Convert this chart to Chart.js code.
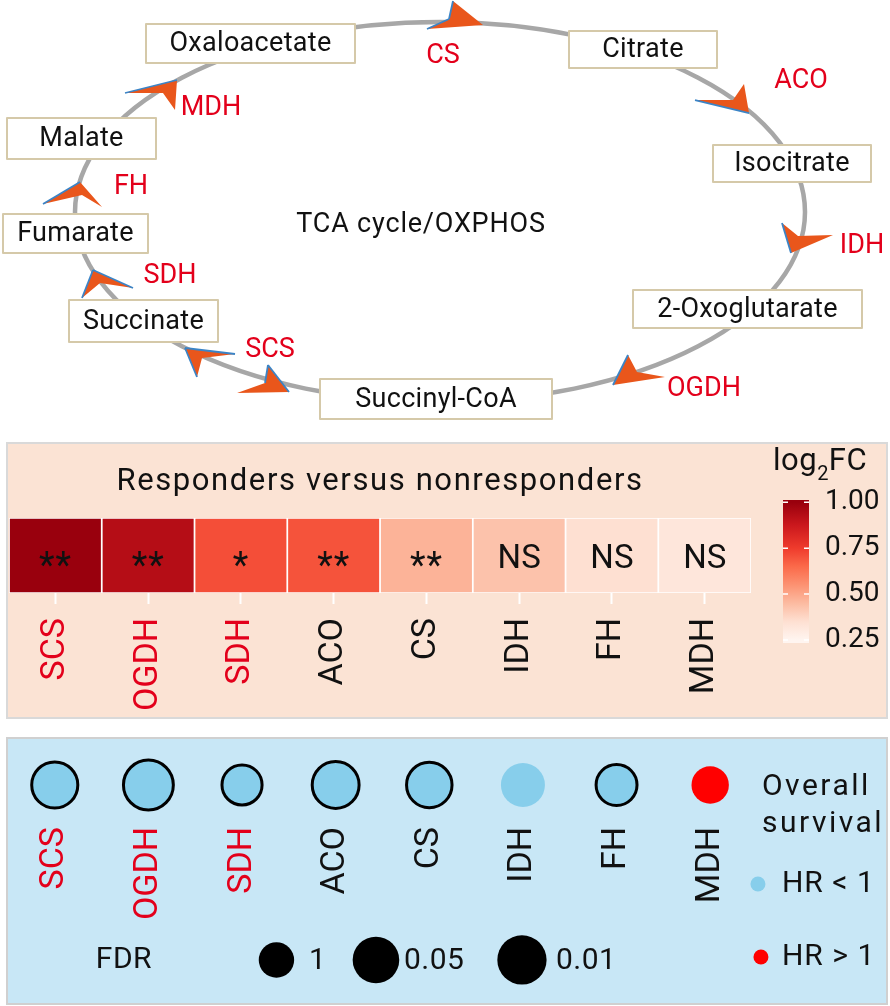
<!DOCTYPE html>
<html><head><meta charset="utf-8">
<script src="https://cdn.jsdelivr.net/npm/chart.js@4.4.1/dist/chart.umd.min.js"></script>
<style>
html,body{margin:0;padding:0;background:#fff;width:890px;height:1006px;overflow:hidden;position:relative;}
canvas{position:absolute;}
.panel{position:absolute;box-sizing:border-box;}
</style></head><body>
<div class="panel" style="left:6px;top:442px;width:882px;height:277px;background:#fbe3d4;border:2px solid #d9d9d9"></div>
<div class="panel" style="left:6px;top:737px;width:882px;height:268px;background:#c8e7f6;border:2px solid #d0d0d0"></div>
<canvas id="tca" width="890" height="432" style="left:0;top:0"></canvas>
<canvas id="heat" width="760" height="275" style="left:0;top:443px"></canvas>
<canvas id="cbar" width="128" height="275" style="left:760px;top:443px"></canvas>
<canvas id="bub"></canvas>
<script>
// ---------------- DATA ----------------
const metabolites = ['Oxaloacetate','Citrate','Isocitrate','2-Oxoglutarate','Succinyl-CoA','Succinate','Fumarate','Malate'];
const enzymes = ['CS','ACO','IDH','OGDH','SCS','SDH','FH','MDH'];
const diagramTitle = 'TCA cycle/OXPHOS';

const genes = ['SCS','OGDH','SDH','ACO','CS','IDH','FH','MDH'];
const log2FC = [1.00, 0.93, 0.71, 0.70, 0.47, 0.43, 0.35, 0.32];
const signif = ['**','**','*','**','**','NS','NS','NS'];
const highlighted = ['SCS','OGDH','SDH'];
const heatTitle = 'Responders versus nonresponders';
const colorbarTicks = [0.25, 0.50, 0.75, 1.00];

const survivalFDR = [0.064, 0.0065, 0.59, 0.042, 0.087, 0.17, 0.48, 0.91];
const hrAbove1 = [false, false, false, false, false, false, false, true];
const outlined = [true, true, true, true, true, false, true, false];
const fdrBreaks = [1, 0.05, 0.01];
const fdrBreakLabels = ['1', '0.05', '0.01'];

// ---------------- STYLE / LAYOUT ----------------
const FONT = 'Roboto';
const RED_TXT = '#e3001b';
const TXT = '#111111';
const ORANGE = '#e9561b';
const BLUE_EDGE = '#3b84c6';
const SKY = '#87ceeb';
const BUB_BORDER = 3;

const colourStops = [[0.25,'#fff5f0'],[0.35,'#fee0d2'],[0.45,'#fcbba1'],[0.55,'#fc9272'],[0.65,'#fb6a4a'],[0.75,'#ef3b2c'],[0.875,'#cb181d'],[1.0,'#99000d']];
function hex2rgb(h){return [1,3,5].map(i=>parseInt(h.substr(i,2),16));}
function colourFor(v){
  if (v <= colourStops[0][0]) return colourStops[0][1];
  for (let i=1;i<colourStops.length;i++){
    const [v1,c1]=colourStops[i];
    if (v <= v1){
      const [v0,c0]=colourStops[i-1];
      const t=(v-v0)/(v1-v0); const a=hex2rgb(c0), b=hex2rgb(c1);
      return 'rgb('+a.map((x,k)=>Math.round(x+(b[k]-x)*t)).join(',')+')';
    }
  }
  return colourStops[colourStops.length-1][1];
}
function sizeScale(fdr){ return 17.7 + 4.9*Math.sqrt(-Math.log10(fdr)); }

const ellipseGeom = {cx:440, cy:212, rx:365, ry:190};
const boxLayout = {
  'Oxaloacetate':[146,24,355,63], 'Citrate':[569,31,717,68], 'Isocitrate':[713,145,871,182],
  '2-Oxoglutarate':[633,290,862,328], 'Succinyl-CoA':[320,379,552,419], 'Succinate':[69,300,218,342],
  'Fumarate':[3,214,148,253], 'Malate':[7,118,156,159]
};
const enzymeLabelPos = {CS:[443,55], ACO:[801,80], IDH:[862,245], OGDH:[704,388], SCS:[270,349], SDH:[170,275], FH:[131,186], MDH:[211,107]};
const arrowShapes = [
  {pts:[[453,1],[449,19],[427,29],[483,25]], blue:[[0,1],[1,2]]},
  {pts:[[744,84],[733,100],[695,100],[749,113]], blue:[[2,3]]},
  {pts:[[782,223],[791,253],[833,235],[798,236]], blue:[[0,1]]},
  {pts:[[628,355],[613,385],[665,377],[637,372]], blue:[[0,1]]},
  {pts:[[268,365],[289,392],[237,393],[265,383]], blue:[[3,0],[0,1]]},
  {pts:[[185,348],[197,377],[202,358],[235,354]], blue:[[3,0],[0,1]]},
  {pts:[[93,270],[82,298],[100,283],[133,288]], blue:[[3,0],[0,1]]},
  {pts:[[80,182],[102,207],[82,195],[43,204]], blue:[[3,0]]},
  {pts:[[177,80],[175,110],[163,93],[125,93]], blue:[[3,0]]}
];

const common = {responsive:false, animation:false, events:[], plugins:{legend:{display:false}, tooltip:{enabled:false}}};

// ---------------- TCA DIAGRAM ----------------
const diagramPlugin = {
  id:'diagram',
  afterDatasetsDraw(chart){
    const {ctx} = chart; const X=v=>chart.scales.x.getPixelForValue(v), Y=v=>chart.scales.y.getPixelForValue(v);
    ctx.save();
    const e = ellipseGeom;
    ctx.beginPath();
    ctx.ellipse(X(e.cx), Y(e.cy), Math.abs(X(e.cx+e.rx)-X(e.cx)), Math.abs(Y(e.cy+e.ry)-Y(e.cy)), 0, 0, Math.PI*2);
    ctx.strokeStyle='#a7a7a7'; ctx.lineWidth=4.5; ctx.stroke();
    arrowShapes.forEach(a=>{
      ctx.beginPath();
      a.pts.forEach((p,i)=>{ if(i===0) ctx.moveTo(X(p[0]),Y(p[1])); else ctx.lineTo(X(p[0]),Y(p[1])); });
      ctx.closePath(); ctx.fillStyle=ORANGE; ctx.fill();
      ctx.strokeStyle=BLUE_EDGE; ctx.lineWidth=1.8; ctx.lineJoin='round';
      a.blue.forEach(([i,j])=>{ ctx.beginPath(); ctx.moveTo(X(a.pts[i][0]),Y(a.pts[i][1])); ctx.lineTo(X(a.pts[j][0]),Y(a.pts[j][1])); ctx.stroke(); });
    });
    ctx.textAlign='center'; ctx.textBaseline='middle';
    metabolites.forEach(m=>{
      const [x0,y0,x1,y1]=boxLayout[m];
      ctx.fillStyle='#fff'; ctx.fillRect(X(x0),Y(y0),X(x1)-X(x0),Y(y1)-Y(y0));
      ctx.strokeStyle='#d5c9a9'; ctx.lineWidth=2; ctx.strokeRect(X(x0),Y(y0),X(x1)-X(x0),Y(y1)-Y(y0));
      ctx.fillStyle=TXT; ctx.font='27px '+FONT; ctx.letterSpacing='0.3px';
      ctx.fillText(m, X((x0+x1)/2), Y((y0+y1)/2)+1);
    });
    ctx.letterSpacing='0px';
    enzymes.forEach(en=>{
      const [x,y]=enzymeLabelPos[en];
      ctx.fillStyle=RED_TXT; ctx.font='27px '+FONT; ctx.fillText(en, X(x), Y(y)+1);
    });
    ctx.fillStyle=TXT; ctx.font='27px '+FONT; ctx.letterSpacing='0.8px';
    ctx.fillText(diagramTitle, X(421), Y(225));
    ctx.restore();
  }
};
new Chart(document.getElementById('tca'), {
  type:'scatter', data:{datasets:[{data:[]}]},
  options:{...common, layout:{padding:0},
    scales:{x:{type:'linear',min:0,max:890,display:false}, y:{type:'linear',min:0,max:432,reverse:true,display:false}}},
  plugins:[diagramPlugin]
});

// ---------------- HEATMAP ----------------
const heatPlugin = {
  id:'heatText',
  afterDatasetsDraw(chart){
    const {ctx}=chart; const meta=chart.getDatasetMeta(0);
    ctx.save(); ctx.textAlign='center'; ctx.textBaseline='alphabetic'; ctx.fillStyle=TXT;
    meta.data.forEach((bar,i)=>{
      const s=signif[i]; const cy=(bar.y+bar.base)/2;
      if (s.startsWith('*')) { ctx.font='36px '+FONT; ctx.letterSpacing='1px'; ctx.fillText(s, bar.x, cy+21); }
      else { ctx.font='33px '+FONT; ctx.letterSpacing='0px'; ctx.fillText(s, bar.x, cy+12); }
    });
    ctx.font='31px '+FONT; ctx.letterSpacing='1.6px'; ctx.textBaseline='middle';
    ctx.fillText(heatTitle, (chart.chartArea.left+chart.chartArea.right)/2, 39);
    ctx.restore();
  }
};
new Chart(document.getElementById('heat'), {
  type:'bar',
  data:{labels:genes, datasets:[{data:genes.map(()=>[0,1]), backgroundColor:log2FC.map(colourFor),
    borderColor:'#ffffff', borderWidth:1.2, borderSkipped:false, barPercentage:1, categoryPercentage:1}]},
  options:{...common, layout:{padding:{left:9,right:8,top:75,bottom:0}},
    scales:{
      y:{display:false,min:0,max:1},
      x:{offset:true,
        grid:{display:true,offset:false,drawOnChartArea:false,drawTicks:true,tickLength:11,color:'#fff',tickColor:'#fff',tickWidth:2},
        border:{display:false},
        ticks:{autoSkip:false,minRotation:90,maxRotation:90,padding:14,font:{family:FONT,size:34},
          color:c=>highlighted.includes(genes[c.index])?RED_TXT:TXT},
        afterFit(s){s.height=125;}
      }
    }},
  plugins:[heatPlugin]
});

// ---------------- COLOUR BAR ----------------
const cbMin=0.234, cbMax=1.012;
const cbPlugin = {
  id:'cbDeco',
  afterDatasetsDraw(chart){
    const {ctx,chartArea:a}=chart; const ys=chart.scales.y;
    ctx.save(); ctx.strokeStyle='#fff'; ctx.lineWidth=1.5;
    colorbarTicks.forEach(v=>{ const y=ys.getPixelForValue(v);
      ctx.beginPath(); ctx.moveTo(a.left,y); ctx.lineTo(a.left+5,y); ctx.moveTo(a.right-5,y); ctx.lineTo(a.right,y); ctx.stroke(); });
    ctx.fillStyle=TXT; ctx.textBaseline='alphabetic'; ctx.textAlign='left';
    ctx.font='31px '+FONT; ctx.letterSpacing='0.5px';
    let x=13; ctx.fillText('log', x, 27); x+=ctx.measureText('log').width;
    ctx.font='20px '+FONT; ctx.fillText('2', x, 37); x+=ctx.measureText('2').width;
    ctx.font='31px '+FONT; ctx.fillText('FC', x, 27);
    ctx.restore();
  }
};
new Chart(document.getElementById('cbar'), {
  type:'bar',
  data:{labels:['log2FC'], datasets:[{data:[[cbMin,cbMax]], barPercentage:1, categoryPercentage:1, borderWidth:0,
    backgroundColor:(c)=>{ const ch=c.chart; if(!ch.chartArea) return '#f00'; const ys=ch.scales.y;
      const lo=colorbarTicks[0], hi=colorbarTicks[colorbarTicks.length-1];
      const g=ch.ctx.createLinearGradient(0, ys.getPixelForValue(lo), 0, ys.getPixelForValue(hi));
      colourStops.forEach(([v,col])=>g.addColorStop((v-lo)/(hi-lo), col)); return g; }}]},
  options:{...common, layout:{padding:{left:23,top:57,bottom:75,right:0}},
    scales:{
      x:{display:false},
      y:{position:'right',min:cbMin,max:cbMax,grid:{display:false,drawTicks:false},border:{display:false},
        afterBuildTicks(s){ s.ticks=colorbarTicks.map(v=>({value:v})); },
        ticks:{padding:16,color:TXT,font:{family:FONT,size:28},callback:v=>Number(v).toFixed(2)},
        afterFit(s){s.width=79;}}
    }},
  plugins:[cbPlugin]
});

// ---------------- BUBBLES (overall survival) ----------------
const overflow = Math.max(...genes.map((g,i)=>sizeScale(survivalFDR[i]) + (outlined[i]?BUB_BORDER:0)));
const AREA = {left:8, top:745, right:757, bottom:825, pageBottom:1004, rightPad:133};
const bubLeft = AREA.left - overflow, bubTop = AREA.top - overflow;
const bubCanvas = document.getElementById('bub');
bubCanvas.width = Math.round(AREA.right + AREA.rightPad - bubLeft);
bubCanvas.height = Math.round(AREA.pageBottom - bubTop);
bubCanvas.style.left = bubLeft+'px'; bubCanvas.style.top = bubTop+'px';
const PX = x => x - bubLeft, PY = y => y - bubTop;

const bubLegend = {
  id:'bubLegend',
  afterDatasetsDraw(chart){
    const {ctx}=chart;
    ctx.save(); ctx.fillStyle=TXT; ctx.textAlign='left'; ctx.textBaseline='middle';
    ctx.font='30px '+FONT; ctx.letterSpacing='2.5px';
    ctx.fillText('Overall', PX(762), PY(788)); ctx.fillText('survival', PX(762), PY(825));
    ctx.letterSpacing='1px';
    ctx.fillStyle=SKY; ctx.beginPath(); ctx.arc(PX(758),PY(884),7.5,0,Math.PI*2); ctx.fill();
    ctx.fillStyle='#ff0000'; ctx.beginPath(); ctx.arc(PX(761),PY(957),7.5,0,Math.PI*2); ctx.fill();
    ctx.fillStyle=TXT; ctx.fillText('HR < 1', PX(782), PY(885)); ctx.fillText('HR > 1', PX(782), PY(958));
    ctx.letterSpacing='0.5px';
    ctx.textAlign='center'; ctx.fillText('FDR', PX(124), PY(961));
    const cx=[276.5,376,522], tx=[309,404,556];
    fdrBreaks.forEach((f,i)=>{
      ctx.fillStyle='#000'; ctx.beginPath(); ctx.arc(PX(cx[i]),PY(960),sizeScale(f),0,Math.PI*2); ctx.fill();
      ctx.fillStyle=TXT; ctx.textAlign='left'; ctx.fillText(fdrBreakLabels[i], PX(tx[i]), PY(962));
    });
    ctx.restore();
  }
};
new Chart(bubCanvas, {
  type:'bubble',
  data:{datasets:[{
    data:genes.map((g,i)=>({x:i,y:0,r:sizeScale(survivalFDR[i])})),
    backgroundColor:hrAbove1.map(h=>h?'#ff0000':SKY),
    borderColor:'#000000',
    borderWidth:outlined.map(o=>o?BUB_BORDER:0),
    clip:false
  }]},
  options:{...common, layout:{padding:{left:0,right:AREA.rightPad,top:0,bottom:0}},
    scales:{
      y:{display:false,min:-1,max:1},
      x:{type:'linear',min:-0.5,max:7.5,grid:{display:false,drawTicks:false},border:{display:false},
        afterBuildTicks(s){ s.ticks=genes.map((g,i)=>({value:i})); },
        ticks:{autoSkip:false,minRotation:90,maxRotation:90,padding:2,font:{family:FONT,size:34},
          callback:v=>genes[v], color:c=>highlighted.includes(genes[c.index])?RED_TXT:TXT},
        afterFit(s){s.height=AREA.pageBottom-AREA.bottom;}}
    }},
  plugins:[bubLegend]
});
</script>
</body></html>
